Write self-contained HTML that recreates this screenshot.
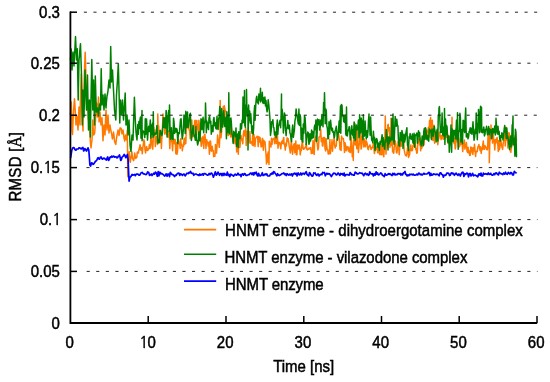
<!DOCTYPE html>
<html><head><meta charset="utf-8"><title>RMSD</title>
<style>html,body{margin:0;padding:0;background:#fff;width:550px;height:382px;overflow:hidden}svg{display:block}</style>
</head><body>
<svg width="550" height="382" viewBox="0 0 550 382" font-family="Liberation Sans, Arial, sans-serif" font-size="15" fill="#000"><path d="M70.5 115.0 71.3 102.0 72.0 130.0 72.5 134.4 73.3 115.0 73.9 106.1 74.5 98.7 75.2 110.0 76.0 125.0 76.5 120.9 77.0 116.0 77.5 122.7 78.0 130.0 78.5 119.3 79.0 107.0 79.5 115.6 80.0 125.0 80.5 95.0 81.3 74.0 82.0 110.0 82.5 120.9 83.0 131.0 83.6 100.0 84.5 70.0 85.2 52.3 86.0 80.0 86.8 110.0 87.5 100.0 88.0 109.4 88.5 120.0 89.0 115.5 89.5 110.0 90.3 141.0 91.0 148.0 91.5 143.3 92.0 140.0 92.8 120.0 93.5 135.0 94.1 134.4 94.7 133.0 95.5 120.0 96.0 110.7 96.5 103.0 97.0 110.5 97.5 117.0 98.0 106.4 98.5 97.0 99.1 122.0 100.0 112.0 100.5 119.3 101.0 125.0 101.5 120.8 102.0 117.8 102.5 130.1 103.0 140.8 103.5 132.2 104.0 125.0 104.5 130.3 105.0 135.0 105.5 121.8 106.0 110.0 106.5 120.6 107.0 130.0 107.5 122.0 108.0 115.0 108.5 124.4 109.0 133.0 109.5 128.3 110.0 125.0 110.5 128.6 111.0 131.0 111.7 134.2 112.4 138.9 113.0 136.1 113.5 132.0 114.0 135.7 114.5 141.0 115.2 143.3 115.8 144.4 116.4 139.0 117.0 135.0 117.5 133.1 118.0 130.0 118.5 132.4 119.0 135.6 119.5 132.6 120.0 128.0 120.7 128.0 121.3 128.9 122.0 134.0 122.5 132.7 123.0 130.0 123.5 133.2 124.0 138.0 124.7 141.0 125.5 135.0 126.0 138.1 126.5 140.0 127.3 130.0 127.8 176.8 128.5 160.0 129.2 151.5 129.8 158.3 130.3 162.2 130.8 158.5 131.4 155.4 131.9 151.9 132.5 158.2 133.0 159.4 133.6 160.6 134.1 158.3 134.7 153.1 135.3 156.6 135.8 158.5 136.3 156.8 136.8 157.5 137.3 152.1 137.9 153.0 138.4 153.0 139.0 149.5 139.5 147.6 140.1 144.7 140.6 150.1 141.2 147.4 141.7 148.2 142.3 153.8 142.9 147.1 143.4 144.3 143.9 139.7 144.4 141.6 145.0 149.6 145.6 152.9 146.1 148.5 146.7 146.6 147.2 150.4 147.8 150.6 148.3 149.0 148.9 148.4 149.4 144.6 150.0 148.6 150.5 144.7 151.0 131.6 151.6 140.4 152.2 147.1 152.7 149.1 153.2 140.5 153.7 127.3 154.2 135.8 154.8 130.1 155.3 146.6 155.9 141.8 156.5 136.8 157.0 138.0 157.6 144.4 157.8 114.0 158.1 128.8 158.6 125.8 159.2 138.9 159.8 142.8 160.3 134.6 160.9 131.7 161.4 148.4 162.0 134.8 162.5 126.3 163.0 114.0 163.1 124.4 163.6 117.5 164.2 124.2 164.7 134.1 165.3 123.8 165.9 129.1 166.5 134.5 167.1 129.6 167.7 137.0 168.2 130.9 168.7 137.1 169.2 132.5 169.8 148.6 170.4 137.7 171.0 134.9 171.5 141.1 172.0 142.5 172.6 150.8 173.2 138.2 173.7 142.7 174.3 143.6 174.8 139.2 175.3 140.2 175.8 153.8 176.3 142.6 176.9 154.2 177.5 152.0 178.0 142.7 178.5 139.4 179.1 144.0 179.6 143.2 180.2 148.4 180.7 138.7 181.2 145.0 181.8 144.1 182.3 150.8 182.9 146.0 183.5 146.2 184.1 138.5 184.6 144.5 185.2 137.8 185.8 143.4 186.3 130.0 186.9 122.9 187.5 127.5 188.1 124.7 188.6 123.5 189.1 129.6 189.7 131.6 190.2 138.8 190.7 133.2 191.3 125.2 191.8 119.9 192.4 136.4 193.0 136.8 193.5 135.9 194.1 129.9 194.7 121.0 195.2 120.3 195.7 127.0 196.3 125.4 196.8 120.4 197.3 129.6 197.8 124.7 198.4 135.0 198.9 120.2 199.5 127.1 200.1 135.2 200.7 137.6 201.2 146.3 201.7 143.0 202.2 138.2 202.8 136.9 203.3 144.1 203.8 148.4 204.3 135.0 204.9 134.2 205.5 141.5 206.0 148.4 206.6 139.5 207.1 142.0 207.7 141.9 208.2 146.1 208.8 142.4 209.4 154.2 210.0 141.0 210.6 141.3 211.1 150.8 211.7 151.1 212.2 146.3 212.7 150.6 213.2 150.5 213.7 156.7 214.3 155.5 214.9 156.3 215.5 144.6 216.0 146.5 216.5 153.1 217.1 145.0 217.6 135.0 218.1 139.5 218.7 141.9 219.3 147.3 219.9 135.1 220.2 100.5 220.4 127.0 221.0 137.8 221.6 131.6 222.1 123.2 222.7 123.8 223.2 106.4 223.8 124.4 224.3 105.7 224.8 108.8 225.4 110.9 225.9 110.9 226.4 126.5 226.9 133.9 227.5 121.8 228.0 135.4 228.6 135.5 229.1 119.5 229.6 125.1 230.2 127.6 230.8 137.0 231.3 127.5 231.8 133.7 232.4 137.0 232.9 141.4 233.4 142.5 234.0 137.6 234.5 133.9 235.1 143.7 235.6 140.4 236.1 139.4 236.7 151.9 237.2 144.5 237.8 142.2 238.3 154.3 238.8 139.7 239.4 135.7 239.9 147.5 240.5 140.4 241.0 135.3 241.6 139.9 242.2 139.2 242.8 143.8 243.3 134.6 243.9 130.7 244.4 134.3 245.0 136.1 245.6 127.6 246.2 145.4 246.7 142.5 247.2 130.9 247.8 134.3 248.3 139.4 248.8 136.4 249.3 142.7 249.9 131.5 250.4 143.2 251.0 141.6 251.6 141.9 252.2 144.9 252.7 135.4 253.3 145.8 253.8 134.3 254.4 137.9 255.0 146.5 255.5 138.4 256.1 137.9 256.7 137.0 257.2 136.2 257.7 137.7 258.2 146.6 258.8 136.6 259.4 141.9 260.0 137.4 260.6 142.2 261.1 146.9 261.7 146.4 262.3 138.6 262.8 139.2 263.3 150.2 263.9 140.4 264.5 143.4 265.0 141.7 265.6 149.7 266.1 155.5 266.5 164.0 266.6 157.9 267.1 154.5 267.6 161.9 268.1 152.1 268.7 161.3 269.0 164.5 269.3 141.2 269.8 145.3 270.4 143.9 270.9 147.1 271.5 138.2 272.0 144.4 272.5 138.9 273.0 139.5 273.5 139.1 274.1 138.1 274.6 143.8 275.2 134.1 275.8 136.3 276.3 143.6 276.9 137.8 277.4 134.8 278.0 148.3 278.6 142.2 279.2 142.6 279.7 142.8 280.3 145.9 280.8 148.8 281.4 142.5 282.0 141.0 282.6 143.6 283.2 139.5 283.7 137.4 284.2 144.7 284.7 145.0 285.3 150.1 285.9 143.1 286.4 146.0 287.1 137.7 287.6 141.3 288.2 138.8 288.7 141.9 289.2 146.2 289.8 149.2 290.3 153.0 290.9 144.9 291.4 140.8 292.0 149.8 292.6 154.3 293.1 147.3 293.7 145.0 294.2 143.8 294.7 152.7 295.2 147.1 295.8 140.9 296.3 154.7 296.9 154.7 297.5 145.0 298.1 145.2 298.6 148.9 299.2 145.0 299.7 146.3 300.2 154.8 300.7 150.3 301.3 150.7 301.9 143.9 302.4 141.1 303.0 148.2 303.6 149.3 304.1 148.1 304.7 148.8 305.2 147.5 305.8 145.9 306.3 143.4 306.9 149.6 307.4 149.9 308.0 149.4 308.5 148.9 309.1 147.8 309.7 148.7 310.2 149.2 310.8 147.5 311.3 153.6 311.9 151.3 312.4 153.3 313.0 140.5 313.6 151.0 314.2 154.5 314.7 139.0 315.2 140.5 315.7 136.3 316.3 141.2 316.8 142.4 317.3 143.6 317.9 149.9 318.5 147.5 319.0 137.0 319.6 137.0 320.2 135.8 320.7 129.2 321.3 141.6 321.9 138.1 322.4 145.7 322.9 146.1 323.5 137.6 324.0 140.1 324.5 137.6 325.0 148.6 325.6 150.9 326.1 138.6 326.6 144.6 327.2 149.6 327.7 149.6 328.2 154.0 328.8 154.1 329.4 151.3 329.9 139.5 330.4 153.7 331.0 147.0 331.5 147.9 332.0 139.7 332.5 151.2 333.0 143.9 333.5 143.7 334.1 138.2 334.6 144.6 335.1 148.0 335.6 145.7 336.2 146.3 336.7 139.2 337.2 139.6 337.8 136.0 338.3 131.9 338.9 136.7 339.5 141.6 340.0 149.6 340.6 142.4 341.1 150.4 341.6 136.1 342.2 138.8 342.8 138.4 343.3 138.5 343.9 142.4 344.5 152.4 345.0 142.8 345.6 145.1 346.1 150.7 346.7 148.3 347.2 146.6 347.8 148.2 348.4 151.1 348.9 146.9 349.5 151.9 350.0 149.3 350.5 152.4 351.1 136.9 351.7 143.4 352.3 156.7 352.8 150.2 353.3 160.4 353.4 147.0 354.0 135.8 354.6 125.7 355.0 124.0 355.1 145.0 355.7 141.5 356.2 139.4 356.8 148.7 357.4 129.7 357.9 144.0 358.4 152.4 359.0 146.1 359.5 143.0 360.0 119.3 360.6 138.3 361.1 149.1 361.6 147.5 362.2 136.3 362.7 135.5 363.3 142.0 363.9 147.0 364.4 139.0 365.0 145.1 365.6 146.6 366.1 140.7 366.6 141.8 367.2 143.9 367.8 148.9 368.3 149.6 368.9 146.6 369.4 145.8 369.9 145.0 370.5 147.0 371.1 149.6 371.6 147.7 372.2 148.0 372.8 146.6 373.4 143.3 373.9 147.2 374.4 153.5 375.0 150.7 375.5 146.5 376.1 146.9 376.6 149.5 377.2 148.0 377.7 152.8 378.3 147.3 378.8 147.5 379.4 153.9 380.0 154.7 380.6 154.0 381.1 144.3 381.7 154.8 382.3 151.0 382.8 142.0 383.3 154.3 383.8 156.8 384.4 146.0 384.9 137.5 385.3 116.0 385.5 143.7 386.0 154.1 386.6 140.1 387.2 137.3 387.7 125.1 388.2 124.4 388.8 130.9 389.3 127.7 389.9 147.5 390.4 134.7 390.9 145.6 391.0 118.3 391.5 136.0 392.1 139.0 392.6 151.6 393.1 152.4 393.7 153.2 394.2 147.6 394.8 144.2 395.2 140.8 395.8 144.2 396.4 152.5 396.9 153.0 397.5 148.9 398.1 141.6 398.6 143.7 399.2 154.7 399.8 147.2 400.3 141.6 400.9 141.3 401.4 146.2 402.0 140.9 402.6 140.4 403.1 140.8 403.6 140.2 404.2 150.2 404.7 152.6 405.3 154.9 405.8 155.5 406.4 156.0 406.9 153.3 407.5 148.2 408.0 143.9 408.5 157.4 408.5 149.2 409.1 156.1 409.7 154.0 410.2 148.1 410.8 144.9 411.3 150.8 411.9 148.9 412.4 150.6 413.0 145.2 413.6 146.2 414.1 139.8 414.6 143.1 415.2 140.3 415.7 149.6 416.2 148.4 416.7 153.2 417.3 152.7 417.9 141.3 418.5 138.6 419.1 140.3 419.6 144.8 420.1 137.7 420.6 150.8 421.2 146.8 421.7 148.3 422.2 146.5 422.8 142.1 423.4 140.5 424.0 144.7 424.6 135.1 425.2 138.7 425.8 137.3 426.3 131.5 426.8 138.0 427.4 130.4 427.9 132.4 428.4 127.3 429.0 137.2 429.5 120.5 430.0 130.0 430.5 118.3 430.6 117.6 431.1 137.9 431.7 122.1 432.3 120.2 432.9 140.6 433.5 132.5 434.0 125.2 434.6 143.2 435.1 134.8 435.7 134.5 436.2 130.8 436.8 134.5 437.3 131.5 437.8 144.8 438.3 139.8 438.9 138.3 439.5 132.2 440.0 134.9 440.6 135.6 441.1 139.6 441.7 135.5 442.2 135.4 442.8 137.8 443.3 139.2 443.9 133.8 444.5 138.5 445.1 137.6 445.6 133.1 446.2 137.0 446.8 137.2 447.3 131.6 447.9 143.2 448.5 135.5 449.1 143.4 449.6 137.0 450.2 139.1 450.7 134.9 451.3 140.5 451.8 139.5 452.0 117.2 452.3 136.1 452.9 138.2 453.5 135.9 454.1 143.6 454.6 138.6 455.2 148.9 455.7 146.8 456.3 128.5 456.8 141.8 457.4 140.0 457.9 135.9 458.4 137.5 458.9 138.8 459.5 146.8 460.0 144.9 460.6 144.5 461.1 139.3 461.6 144.5 462.2 143.3 462.7 151.6 463.3 145.5 463.9 142.7 464.4 140.0 464.9 149.1 465.4 146.5 465.9 146.6 466.4 142.5 467.0 151.2 467.6 152.4 468.1 147.3 468.7 153.1 469.2 151.0 469.7 155.3 470.2 155.4 470.7 147.1 471.3 151.8 471.8 147.5 472.3 153.3 472.9 154.5 473.4 147.7 474.0 150.9 474.5 144.2 475.0 150.3 475.6 156.5 476.1 151.2 476.7 151.9 477.3 151.6 477.8 146.9 478.4 146.2 478.9 144.5 479.5 148.1 480.1 150.7 480.6 146.8 481.2 153.4 481.7 148.0 482.2 149.7 482.7 145.1 483.3 141.1 483.8 149.3 484.4 149.3 484.9 145.4 485.4 147.0 486.0 147.0 486.5 149.1 487.1 149.9 487.6 149.0 488.1 133.8 488.7 130.5 489.2 137.1 489.3 162.8 489.8 142.4 490.4 138.2 491.0 132.9 491.0 125.0 491.5 135.3 492.1 134.9 492.6 143.1 493.2 132.5 493.7 138.4 494.2 141.6 494.8 149.9 495.4 139.5 496.0 142.9 496.5 139.0 497.1 137.5 497.7 143.1 498.3 151.4 498.8 140.5 499.4 149.7 499.9 147.5 500.4 143.2 500.9 139.7 501.4 144.3 502.0 147.3 502.6 149.4 503.1 144.4 503.7 140.2 504.2 139.5 504.7 130.9 505.0 127.0 505.2 146.0 505.8 137.6 506.3 127.4 506.9 140.3 507.4 131.8 507.9 147.9 508.5 139.0 509.0 132.7 509.6 135.1 510.2 150.8 510.8 152.3 511.3 148.0 511.8 146.6 512.4 140.0 512.9 143.8 513.5 143.2 514.0 140.4 514.6 137.8 515.2 135.3 515.7 137.5 516.2 140.7 516.8 139.4" fill="none" stroke="#ff7800" stroke-width="1.5" stroke-linejoin="round"/>
<path d="M70.5 60.0 71.2 49.0 72.0 70.0 72.5 60.6 73.0 52.0 73.5 59.7 74.0 66.0 74.5 55.5 75.0 46.9 75.5 36.5 76.0 47.8 76.5 60.0 77.3 48.7 78.2 100.0 79.0 60.0 79.5 55.3 80.0 48.4 80.5 43.7 81.0 59.9 81.5 75.0 82.3 125.0 83.0 90.0 83.5 102.9 84.0 117.0 84.5 93.9 85.0 70.0 85.5 83.0 86.0 97.2 86.5 110.0 87.0 91.9 87.5 75.0 88.0 102.9 88.5 130.0 89.0 114.3 89.5 100.0 90.3 137.0 91.0 100.0 91.8 59.5 92.3 85.2 92.8 110.0 93.5 80.0 94.0 102.1 94.5 125.0 95.3 76.0 95.8 94.3 96.3 112.0 96.9 109.2 97.5 108.0 98.0 112.7 98.5 116.0 99.0 109.3 99.5 104.0 100.0 107.6 100.5 110.0 101.2 68.8 102.0 105.0 102.5 99.7 103.0 95.0 103.5 103.0 104.0 110.0 104.5 101.4 105.0 94.0 105.5 101.4 106.0 108.0 106.5 101.2 107.0 96.0 107.5 94.0 108.0 91.0 108.5 85.1 109.0 80.0 109.5 84.7 110.0 88.0 110.7 46.5 111.5 82.0 112.0 75.6 112.5 70.0 113.0 80.8 113.5 90.0 114.0 99.5 114.5 110.0 115.2 115.6 115.8 120.0 116.5 95.0 117.0 87.0 117.5 80.0 118.3 63.8 119.0 90.0 119.8 123.0 120.5 100.0 121.0 108.1 121.5 115.0 122.0 107.1 122.5 100.0 123.0 110.3 123.5 120.0 124.0 111.8 124.5 105.0 125.2 93.0 126.0 125.0 126.5 120.4 127.0 115.0 127.5 124.3 128.0 135.0 128.5 127.9 129.0 120.0 129.5 131.7 130.0 145.0 130.5 149.0 131.0 151.6 131.5 142.6 132.0 135.0 132.5 138.2 133.0 140.0 133.7 118.0 134.4 97.2 135.3 120.0 136.0 132.0 136.5 136.7 137.0 140.0 137.8 124.4 138.4 134.3 138.9 121.5 139.5 128.4 140.0 119.7 140.5 117.0 141.0 138.3 141.6 137.9 142.0 110.5 142.1 140.8 142.7 130.7 143.2 131.1 143.8 131.9 144.3 133.4 144.8 137.6 145.3 118.7 145.9 134.3 146.5 118.9 147.0 127.9 147.5 140.1 148.1 131.6 148.7 126.3 149.2 131.6 149.7 128.3 150.3 120.0 150.8 138.1 151.3 125.1 151.9 134.4 152.5 123.1 153.0 137.4 153.3 111.7 153.6 134.3 154.1 135.4 154.7 133.0 155.3 134.0 155.8 134.2 156.3 131.8 156.9 125.4 157.4 135.0 157.9 143.3 158.5 140.1 159.0 139.3 159.5 142.4 160.0 130.2 160.6 130.6 161.2 134.1 161.8 135.5 162.3 134.0 162.8 126.3 163.4 117.7 163.9 127.3 164.4 127.4 164.9 117.8 165.5 128.1 166.1 110.5 166.6 112.8 167.1 136.9 167.6 115.7 168.2 121.6 168.7 110.4 169.3 131.4 169.5 105.0 169.8 118.5 170.3 139.2 170.8 134.9 171.4 127.8 172.0 139.0 172.5 135.7 173.0 139.7 173.5 118.2 174.1 122.7 174.6 133.5 175.1 128.7 175.6 128.4 176.2 132.1 176.7 128.6 177.2 130.3 177.8 143.4 178.4 132.8 178.9 133.5 179.4 133.6 180.0 125.6 180.5 119.4 181.1 118.8 181.6 129.4 182.2 138.9 182.8 135.6 183.4 128.6 184.0 114.9 184.6 116.2 185.2 133.5 185.8 111.2 186.4 127.5 186.9 115.1 187.5 112.1 188.0 127.7 188.6 125.9 189.2 120.7 189.8 114.8 190.4 113.2 190.9 130.5 191.4 140.4 192.0 135.3 192.5 131.0 193.1 125.4 193.7 133.1 194.2 135.8 194.8 136.9 195.4 140.3 195.9 126.6 196.5 140.3 197.0 140.5 197.6 145.0 198.2 142.8 198.8 131.8 199.3 139.7 199.9 141.0 200.5 128.6 201.0 118.7 201.5 120.3 202.0 129.7 202.6 120.3 203.1 117.3 203.7 132.7 204.2 122.6 204.7 122.7 205.3 117.4 205.5 103.0 205.8 111.3 206.3 132.8 206.8 121.1 207.4 123.7 207.9 126.9 208.5 129.6 209.0 118.0 209.6 116.2 210.2 122.9 210.8 121.2 211.3 134.2 211.9 128.0 212.4 125.6 213.0 131.8 213.5 119.3 214.0 117.5 214.6 125.7 215.2 122.6 215.8 128.2 216.4 129.0 217.0 116.3 217.5 127.1 218.1 129.5 218.7 118.4 219.2 116.6 219.8 106.6 220.4 120.3 221.0 132.3 221.6 108.4 222.1 116.2 222.7 127.1 223.2 117.6 223.7 110.7 224.3 118.1 224.8 126.6 225.4 123.7 225.9 117.2 226.4 138.7 226.9 111.8 227.5 120.6 228.1 132.8 228.7 120.4 228.8 92.8 229.2 124.0 229.7 134.0 230.3 119.8 230.9 117.9 231.4 123.2 232.0 134.7 232.6 135.0 233.2 143.4 233.7 131.2 234.3 132.5 234.8 134.8 235.5 137.0 236.0 127.9 236.6 146.5 237.1 138.2 237.7 134.1 238.2 147.8 238.7 131.8 239.3 138.7 239.9 138.6 240.5 123.8 241.0 128.0 241.5 128.9 242.1 120.1 242.6 121.0 243.0 97.0 243.2 122.7 243.7 105.7 244.2 122.3 244.5 90.5 244.8 125.1 245.3 127.2 245.8 105.0 246.4 113.5 246.5 89.5 246.9 110.5 247.4 116.6 248.0 107.9 248.0 150.0 248.6 105.1 249.1 120.4 249.7 111.1 250.3 123.1 250.8 113.8 251.4 124.7 252.0 133.3 252.5 126.1 253.1 134.5 253.6 128.6 254.1 112.6 254.7 105.6 255.1 120.2 255.7 105.9 256.3 98.3 256.8 96.3 257.3 101.8 257.9 103.0 258.4 103.9 258.9 94.1 259.5 96.6 260.0 100.2 260.5 88.3 260.6 101.9 261.2 100.7 261.7 98.5 262.3 92.3 262.8 103.0 263.3 97.5 263.9 103.5 264.4 102.4 264.9 97.1 265.5 105.9 266.0 100.5 266.5 107.9 267.1 111.8 267.7 107.4 268.2 99.8 268.8 104.9 269.4 111.5 270.0 119.6 270.5 135.5 271.1 130.9 271.7 121.8 272.3 123.5 272.9 119.7 273.4 127.4 273.9 127.5 274.5 135.0 275.1 132.1 275.6 132.5 276.2 137.8 276.7 126.5 277.3 120.0 277.8 134.5 278.4 126.1 279.0 125.2 279.5 122.0 280.1 120.2 280.6 127.7 281.1 116.4 281.5 94.0 281.6 120.0 282.2 109.3 282.8 115.7 283.4 133.0 284.0 124.3 284.5 113.1 285.0 115.8 285.6 130.0 286.1 135.7 286.6 127.8 287.2 128.0 287.8 120.4 288.3 128.8 288.8 127.2 289.4 125.3 289.9 132.9 290.5 134.1 291.0 139.0 291.5 141.8 292.1 130.5 292.7 124.9 293.3 137.3 293.8 134.1 294.4 130.1 294.9 121.2 295.5 117.9 296.1 108.9 296.7 114.3 297.3 116.4 297.8 120.8 298.4 124.0 298.9 109.1 299.4 125.4 300.0 114.6 300.6 117.3 301.1 139.4 301.7 128.3 302.2 141.3 302.8 142.1 303.3 123.9 303.9 133.3 304.5 115.8 305.1 118.0 305.6 127.2 306.2 144.7 306.8 138.3 307.3 134.5 307.8 132.0 308.4 133.2 308.9 144.2 309.4 142.6 310.0 133.7 310.5 141.0 311.1 137.5 311.6 130.1 312.1 138.4 312.6 131.6 313.2 133.6 313.7 137.7 314.3 127.5 314.8 125.1 315.4 129.5 315.9 120.0 316.4 141.2 316.9 141.2 317.5 119.0 318.0 119.9 318.6 124.7 319.1 119.7 319.6 130.1 320.2 127.3 320.8 120.1 321.3 125.2 321.9 114.5 322.5 118.1 323.0 126.7 323.6 102.4 324.2 109.2 324.5 92.8 324.7 100.9 325.2 123.7 325.8 109.0 326.3 110.9 326.8 125.9 327.4 128.5 327.9 139.0 328.5 138.5 329.0 121.8 329.6 134.3 330.1 126.5 330.6 120.3 331.2 126.4 331.8 130.7 332.4 128.2 332.9 132.3 333.5 131.9 334.1 137.9 334.6 136.3 335.2 130.6 335.7 129.5 336.3 126.3 336.8 131.6 337.4 140.3 337.9 134.6 338.5 131.6 339.1 121.0 339.6 132.2 340.2 114.7 340.5 106.0 340.8 133.2 341.4 104.5 342.0 105.2 342.5 115.9 343.1 115.3 343.7 121.7 344.3 116.6 344.8 122.6 345.3 115.0 345.8 134.3 346.3 135.6 346.5 107.0 346.9 134.3 347.4 135.9 348.0 130.3 348.6 130.7 349.1 126.7 349.6 127.1 350.2 140.0 350.7 131.5 351.2 133.7 351.8 125.8 352.4 135.1 352.9 129.7 353.5 137.9 354.1 122.0 354.6 124.6 355.1 140.5 355.7 138.7 356.3 125.0 356.8 129.9 357.4 129.3 357.9 126.4 358.4 120.1 359.0 137.6 359.6 131.7 359.6 114.7 360.1 131.1 360.6 132.8 361.2 118.1 361.8 120.9 362.3 134.7 362.9 139.7 363.4 114.7 363.5 130.4 364.0 136.5 364.6 135.2 365.1 121.1 365.7 132.7 366.3 138.9 366.9 130.8 367.4 137.2 368.0 131.4 368.5 120.4 369.0 114.0 369.0 124.9 369.6 123.9 370.1 135.3 370.6 116.9 371.2 132.6 371.7 140.0 372.3 140.9 372.9 142.9 373.4 131.2 373.9 138.4 374.5 137.4 375.0 150.4 375.6 145.8 376.1 139.1 376.7 138.6 377.2 140.3 377.8 147.2 378.3 143.1 378.9 146.7 379.4 150.4 380.0 141.6 380.5 144.0 381.1 141.1 381.6 139.0 382.1 134.8 382.6 146.2 383.1 137.4 383.6 144.4 384.2 146.4 384.7 149.2 385.2 139.9 385.8 142.2 386.3 129.6 386.9 136.2 387.4 138.7 388.0 149.9 388.5 137.1 389.1 143.7 389.6 136.9 390.2 141.5 390.8 140.1 391.3 139.5 391.9 118.6 392.4 139.7 393.0 123.0 393.0 114.0 393.5 139.8 394.1 144.5 394.7 128.5 395.2 116.5 395.8 124.3 396.3 126.2 396.8 119.3 397.3 124.5 397.9 126.1 398.4 139.3 399.0 145.7 399.6 146.1 400.2 132.6 400.8 134.1 401.4 140.8 401.9 130.5 402.5 133.5 403.0 148.5 403.5 142.4 404.1 134.2 404.6 142.0 405.2 139.3 405.8 133.6 406.4 130.2 406.9 127.7 407.5 145.4 408.0 143.5 408.5 150.6 409.1 136.8 409.6 138.2 410.1 133.5 410.7 137.7 411.2 139.5 411.8 138.0 412.4 133.9 412.9 143.0 413.5 143.4 414.1 133.3 414.7 147.2 415.2 135.2 415.7 134.7 416.3 135.3 416.8 133.1 417.4 143.3 417.9 138.3 418.5 130.7 419.0 136.4 419.6 132.4 420.1 140.9 420.6 142.2 421.2 145.8 421.7 141.5 422.2 135.9 422.8 142.5 423.3 145.8 423.8 131.1 424.4 128.2 424.9 139.5 425.5 127.8 426.0 129.3 426.6 138.9 427.2 139.9 427.7 135.4 428.2 138.5 428.7 141.2 429.3 128.9 429.8 131.2 430.3 131.9 430.9 130.2 431.5 139.6 432.1 129.0 432.6 132.7 433.2 136.2 433.8 129.4 434.3 126.3 434.9 130.9 435.5 133.5 436.1 142.0 436.6 134.2 437.2 129.2 437.8 141.0 438.3 115.1 438.8 114.0 439.0 108.0 439.4 106.6 439.9 120.8 440.5 132.6 441.0 128.4 441.5 132.2 442.1 113.1 442.7 135.0 443.3 127.2 443.9 136.1 444.4 125.8 444.5 108.5 444.9 144.6 445.5 119.0 446.1 134.7 446.6 125.4 447.1 127.2 447.7 141.9 448.3 142.2 448.8 136.1 449.3 152.2 449.9 144.3 450.5 140.2 451.0 124.9 451.6 152.3 452.1 128.9 452.6 133.9 453.2 141.6 453.8 130.2 454.3 134.8 454.9 130.6 455.5 138.8 456.0 131.9 456.5 120.2 457.1 139.8 457.5 112.8 457.7 135.9 458.2 149.3 458.8 130.8 459.3 131.6 459.9 113.3 460.4 117.7 460.9 141.9 461.5 133.7 462.0 129.6 462.5 143.7 463.1 120.2 463.7 120.8 464.2 130.3 464.7 132.5 465.3 116.0 465.7 108.0 465.8 112.8 466.3 137.1 466.9 135.2 467.4 133.8 468.0 138.8 468.6 136.8 469.1 131.6 469.6 130.5 470.2 127.8 470.7 133.2 471.3 128.3 471.9 134.3 472.4 130.2 473.0 121.8 473.5 131.0 474.0 140.3 474.6 137.6 475.2 129.0 475.7 133.5 476.2 112.9 476.8 128.1 477.3 139.7 477.8 125.6 478.3 122.4 478.5 109.4 478.9 120.6 479.4 132.8 480.0 113.2 480.6 106.3 481.1 132.1 481.5 107.2 481.7 126.0 482.2 132.8 482.8 129.8 483.3 132.0 483.8 127.0 484.4 135.9 485.0 134.3 485.5 129.2 486.1 129.2 486.6 126.3 487.1 132.0 487.6 134.8 488.2 130.5 488.7 126.5 489.3 134.7 489.8 129.1 490.4 131.1 490.9 129.6 491.5 138.8 492.0 137.7 492.6 128.6 493.1 128.9 493.6 132.7 494.2 130.4 494.7 126.1 495.3 134.9 495.8 127.7 496.0 118.3 496.3 123.4 496.9 131.4 497.4 133.9 498.0 126.3 498.6 134.2 499.1 131.3 499.6 137.5 500.1 141.1 500.7 135.7 501.3 137.7 501.9 132.7 502.4 134.0 503.0 139.9 503.6 135.5 504.2 128.8 504.7 125.5 505.2 132.1 505.7 128.2 506.2 138.4 506.8 128.0 507.3 138.2 507.8 136.3 508.4 140.2 508.9 144.7 509.5 149.4 510.0 140.0 510.6 136.1 511.1 147.0 511.6 142.3 512.2 124.7 512.7 125.5 513.0 116.0 513.2 144.9 513.8 139.8 514.4 138.2 514.9 156.2 515.4 129.2 516.0 132.7 516.5 156.8 516.8 157.0" fill="none" stroke="#008000" stroke-width="1.5" stroke-linejoin="round"/>
<path d="M70.6 158.0 71.2 154.0 71.8 150.2 72.7 147.9 73.5 147.5 74.3 148.2 75.1 149.8 75.9 150.2 76.7 149.0 77.4 149.0 78.2 148.9 79.0 147.8 79.8 147.9 80.6 148.8 81.4 149.0 82.2 147.8 82.9 147.5 83.7 151.0 84.3 150.1 84.9 148.6 85.7 149.5 86.5 151.0 87.2 149.9 88.0 147.9 88.8 150.0 89.4 158.0 89.9 165.1 90.6 166.0 91.6 162.8 92.3 163.3 93.1 164.4 93.9 163.8 94.7 162.4 95.5 161.4 96.3 160.8 96.9 160.0 97.6 158.2 98.2 157.7 98.8 158.8 99.4 159.2 100.2 157.6 101.0 156.9 101.8 158.6 102.6 159.2 103.3 158.2 104.1 158.0 105.0 158.9 105.8 159.7 106.5 160.0 107.1 157.9 107.7 156.9 108.5 160.4 109.2 159.7 109.8 157.6 110.5 156.9 111.1 157.3 111.7 156.1 112.3 157.0 112.9 156.5 113.7 156.1 114.4 157.1 115.2 156.9 116.0 156.7 116.8 157.9 117.6 157.7 118.2 156.4 118.9 156.1 119.5 154.9 120.1 157.2 120.7 160.4 121.4 159.6 122.0 157.3 122.7 156.5 123.5 155.9 124.2 154.5 125.0 155.6 125.8 157.7 126.6 156.4 127.4 154.5 128.1 160.0 128.6 172.0 129.1 181.2 129.7 178.0 130.3 176.9 130.9 176.5 132.1 174.5 132.8 175.1 133.6 174.9 134.6 174.4 135.4 175.7 136.3 174.1 137.0 174.0 137.9 174.2 138.9 175.1 139.8 175.1 140.7 173.3 141.4 172.7 142.3 172.4 143.2 173.9 144.1 173.9 145.0 174.2 146.0 174.6 146.8 173.9 147.7 171.9 148.7 172.4 149.5 175.4 150.5 174.8 151.3 174.0 152.0 175.5 152.9 174.2 153.7 173.2 154.5 174.1 155.4 172.1 156.3 172.8 157.3 176.3 158.2 171.7 158.9 175.9 159.9 172.2 160.8 173.9 161.7 173.5 162.6 174.1 163.5 174.7 164.5 176.1 165.4 175.6 166.1 173.9 167.1 176.2 167.8 174.2 168.7 174.1 169.5 176.6 170.3 172.3 171.3 173.9 172.2 174.7 172.9 174.7 173.8 175.5 174.6 176.6 175.4 175.1 176.3 175.3 177.2 173.7 178.0 173.3 178.9 173.0 179.8 175.4 180.6 173.9 181.5 174.3 182.5 175.3 183.4 174.2 184.2 174.2 185.1 175.9 186.0 174.7 186.7 173.4 187.6 173.3 188.4 173.7 189.1 172.4 189.8 172.8 190.6 171.5 191.4 173.2 192.2 173.6 193.0 173.2 193.8 175.3 194.6 174.4 195.5 174.0 196.4 174.0 197.4 175.0 198.1 174.8 199.1 175.5 199.8 174.0 200.7 175.2 201.6 174.8 202.4 173.8 203.3 175.2 204.0 173.6 204.8 173.5 205.7 174.1 206.7 174.7 207.6 175.2 208.5 174.8 209.2 173.4 210.0 174.5 210.8 173.4 211.7 173.2 212.6 174.8 213.4 177.1 214.3 174.7 215.3 171.8 216.3 175.2 217.1 174.3 218.0 172.1 218.8 173.8 219.6 175.3 220.3 173.6 221.3 173.7 222.0 175.7 223.0 173.4 223.9 175.4 224.6 173.5 225.6 174.7 226.5 175.2 227.3 172.1 228.2 175.5 229.0 174.4 229.8 176.6 230.8 174.1 231.6 174.9 232.6 175.3 233.6 176.2 234.5 174.6 235.4 174.2 236.3 175.2 237.1 174.7 238.0 173.2 238.9 174.8 239.6 174.9 240.4 174.6 241.1 176.6 241.8 174.2 242.7 173.9 243.5 175.2 244.4 173.5 245.1 173.7 245.9 175.3 246.8 175.4 247.6 175.0 248.4 174.7 249.3 174.6 250.3 173.2 251.2 173.2 252.0 174.7 252.9 172.8 253.8 175.0 254.5 172.6 255.2 173.7 256.1 172.1 257.1 175.1 257.9 176.0 258.6 173.3 259.5 175.7 260.4 175.9 261.4 174.9 262.3 172.7 263.1 175.4 263.8 175.3 264.6 174.5 265.3 174.0 266.0 174.8 266.8 173.9 267.7 175.9 268.6 176.0 269.6 175.9 270.5 174.0 271.2 174.4 272.1 172.9 272.9 174.1 273.6 171.6 274.4 172.0 275.1 173.2 275.9 174.2 276.8 175.9 277.6 173.7 278.4 175.1 279.3 175.6 280.3 175.1 281.1 174.4 282.0 173.6 282.9 173.6 283.8 173.0 284.7 174.7 285.4 173.9 286.3 175.5 287.1 173.7 288.1 174.6 288.8 175.2 289.7 174.1 290.6 175.0 291.6 173.9 292.4 176.0 293.4 173.7 294.1 173.8 294.8 173.1 295.6 174.3 296.4 173.4 297.1 176.0 298.1 172.9 299.0 174.4 299.9 174.9 300.8 173.0 301.7 174.9 302.6 173.4 303.6 173.4 304.4 174.4 305.3 173.0 306.2 171.6 307.0 174.4 307.8 175.1 308.7 175.9 309.5 172.5 310.4 173.7 311.3 175.3 312.1 176.2 312.9 175.7 313.7 172.9 314.4 173.3 315.2 173.0 315.9 174.7 316.8 175.4 317.7 174.1 318.4 174.0 319.1 176.0 320.1 174.9 321.1 174.1 321.9 174.5 322.7 172.4 323.6 172.9 324.4 172.4 325.3 175.8 326.2 174.0 326.9 173.2 327.8 174.2 328.7 173.6 329.6 173.9 330.5 175.3 331.4 176.6 332.1 175.1 332.9 174.1 333.8 173.1 334.7 173.3 335.6 173.9 336.3 174.9 337.2 174.4 338.1 172.9 338.9 174.0 339.9 175.4 340.6 173.5 341.5 174.2 342.3 173.7 343.2 175.3 344.1 173.1 344.9 176.0 345.7 174.9 346.6 174.7 347.5 174.6 348.3 175.0 349.3 175.1 350.1 172.6 350.9 173.5 351.7 174.7 352.6 174.6 353.5 175.2 354.2 175.2 355.2 172.1 356.0 172.6 356.9 173.6 357.9 173.9 358.9 173.4 359.7 172.7 360.4 173.0 361.4 173.5 362.2 173.1 363.1 174.7 363.8 175.7 364.6 173.7 365.5 173.2 366.5 174.7 367.4 173.9 368.3 175.3 369.1 174.7 369.8 171.8 370.6 173.4 371.6 174.0 372.5 173.7 373.4 175.9 374.3 173.6 375.1 175.2 376.1 171.9 376.9 174.1 377.6 173.0 378.4 174.8 379.1 174.7 379.9 173.9 380.8 172.9 381.7 173.7 382.6 175.5 383.4 175.5 384.3 176.6 385.1 173.6 386.0 175.2 386.8 175.2 387.7 174.4 388.5 173.6 389.2 174.4 390.0 173.7 390.7 174.6 391.4 175.0 392.1 175.5 392.8 173.3 393.8 174.6 394.5 173.4 395.2 174.9 396.2 174.5 397.0 174.8 397.8 173.6 398.5 173.5 399.2 174.1 400.2 173.4 401.0 175.1 401.8 174.0 402.5 174.9 403.4 172.9 404.1 172.9 405.0 171.4 405.7 174.5 406.4 174.4 407.1 175.9 408.1 175.0 408.9 175.7 409.8 174.2 410.8 174.6 411.6 174.2 412.4 174.8 413.2 174.2 414.2 175.1 415.0 175.1 415.9 175.0 416.8 174.1 417.7 175.0 418.7 173.1 419.5 173.5 420.4 174.6 421.3 174.2 422.2 175.0 423.1 174.1 423.9 173.2 424.7 174.1 425.5 174.0 426.5 174.0 427.2 173.8 428.2 172.8 429.1 172.3 430.0 175.6 430.8 173.3 431.6 175.2 432.6 174.9 433.3 173.9 434.0 174.0 434.9 174.3 435.7 174.7 436.6 174.2 437.3 174.2 438.3 174.6 439.1 175.8 440.1 172.8 440.9 172.9 441.7 174.4 442.6 174.7 443.4 177.2 444.1 175.1 445.1 175.5 445.9 175.1 446.8 173.1 447.7 173.1 448.7 173.3 449.5 175.5 450.3 175.2 451.2 173.1 452.0 172.9 452.9 173.8 453.6 173.5 454.3 175.3 455.2 174.3 456.1 173.1 457.0 174.4 458.0 175.4 458.8 174.0 459.6 174.5 460.3 176.0 461.3 173.7 462.3 172.2 463.1 172.4 463.9 176.5 464.9 173.7 465.8 174.4 466.8 173.1 467.8 173.5 468.5 176.8 469.2 174.4 470.1 173.4 471.0 176.0 471.8 175.0 472.6 173.3 473.5 175.8 474.3 175.2 475.1 175.0 475.9 175.5 476.8 176.0 477.8 176.8 478.6 174.3 479.3 173.8 480.2 175.4 481.0 173.0 481.8 175.9 482.7 176.0 483.5 173.1 484.2 174.2 485.0 174.1 485.8 173.6 486.5 174.1 487.3 174.4 488.3 173.0 489.2 174.5 490.0 174.3 490.7 173.3 491.4 174.6 492.3 175.2 493.0 174.9 494.0 173.6 494.7 174.7 495.5 173.1 496.5 172.9 497.4 174.2 498.4 174.9 499.3 172.2 500.2 173.3 501.0 173.7 501.8 173.8 502.8 174.7 503.7 173.0 504.7 174.2 505.5 172.2 506.4 173.8 507.3 174.3 508.3 172.5 509.1 173.2 509.9 174.0 510.9 172.4 511.7 172.9 512.5 174.8 513.4 175.0 514.3 171.4 515.0 172.1 515.9 172.8 516.7 172.9" fill="none" stroke="#0000ff" stroke-width="1.7" stroke-linejoin="round"/>

<line x1="86.65" y1="271.4" x2="537.5" y2="271.4" stroke="#222" stroke-width="1" stroke-dasharray="3.1 6.48"/>
<line x1="86.65" y1="219.6" x2="537.5" y2="219.6" stroke="#222" stroke-width="1" stroke-dasharray="3.1 6.48"/>
<line x1="86.45" y1="167.6" x2="537.5" y2="167.6" stroke="#222" stroke-width="1" stroke-dasharray="3.1 6.48"/>
<line x1="83.45" y1="115.2" x2="537.5" y2="115.2" stroke="#222" stroke-width="1" stroke-dasharray="3.1 6.48"/>
<line x1="86.65" y1="63.2" x2="537.5" y2="63.2" stroke="#222" stroke-width="1" stroke-dasharray="3.1 6.48"/>
<line x1="83.85" y1="12.2" x2="537.5" y2="12.2" stroke="#222" stroke-width="1" stroke-dasharray="3.1 6.48"/>
<path d="M70.4 11.4 V323 H537.2" fill="none" stroke="#000" stroke-width="1.8"/>
<line x1="70" y1="271.4" x2="77" y2="271.4" stroke="#000" stroke-width="1.5"/>
<line x1="70" y1="219.6" x2="77" y2="219.6" stroke="#000" stroke-width="1.5"/>
<line x1="70" y1="167.6" x2="77" y2="167.6" stroke="#000" stroke-width="1.5"/>
<line x1="70" y1="115.2" x2="77" y2="115.2" stroke="#000" stroke-width="1.5"/>
<line x1="70" y1="63.2" x2="77" y2="63.2" stroke="#000" stroke-width="1.5"/>
<line x1="70" y1="12.2" x2="77" y2="12.2" stroke="#000" stroke-width="1.5"/>
<line x1="148.2" y1="316" x2="148.2" y2="323" stroke="#000" stroke-width="1.5"/>
<line x1="226.0" y1="316" x2="226.0" y2="323" stroke="#000" stroke-width="1.5"/>
<line x1="303.8" y1="316" x2="303.8" y2="323" stroke="#000" stroke-width="1.5"/>
<line x1="381.5" y1="316" x2="381.5" y2="323" stroke="#000" stroke-width="1.5"/>
<line x1="459.2" y1="316" x2="459.2" y2="323" stroke="#000" stroke-width="1.5"/>
<line x1="537.0" y1="316" x2="537.0" y2="323" stroke="#000" stroke-width="1.5"/>
<text transform="translate(59.90,328.80) scale(1,1.05)" text-anchor="end" stroke="#000" stroke-width="0.45">0</text>
<text transform="translate(59.90,277.20) scale(1,1.05)" text-anchor="end" stroke="#000" stroke-width="0.45">0.05</text>
<text transform="translate(61.30,225.40) scale(1,1.05)" text-anchor="end" stroke="#000" stroke-width="0.45">0.<tspan font-family="NanumGothic, Liberation Sans, sans-serif">1</tspan></text>
<text transform="translate(59.90,173.40) scale(1,1.05)" text-anchor="end" stroke="#000" stroke-width="0.45">0.<tspan font-family="NanumGothic, Liberation Sans, sans-serif">1</tspan><tspan dx="-0.75">5</tspan></text>
<text transform="translate(59.90,121.00) scale(1,1.05)" text-anchor="end" stroke="#000" stroke-width="0.45">0.2</text>
<text transform="translate(59.90,69.00) scale(1,1.05)" text-anchor="end" stroke="#000" stroke-width="0.45">0.25</text>
<text transform="translate(59.90,18.00) scale(1,1.05)" text-anchor="end" stroke="#000" stroke-width="0.45">0.3</text>
<text transform="translate(69.70,347.50) scale(1,1.1)" text-anchor="middle" stroke="#000" stroke-width="0.45">0</text>
<text transform="translate(147.45,347.50) scale(1,1.1)" text-anchor="middle" stroke="#000" stroke-width="0.45"><tspan font-family="NanumGothic, Liberation Sans, sans-serif">1</tspan><tspan dx="-0.75">0</tspan></text>
<text transform="translate(225.20,347.50) scale(1,1.1)" text-anchor="middle" stroke="#000" stroke-width="0.45">20</text>
<text transform="translate(302.95,347.50) scale(1,1.1)" text-anchor="middle" stroke="#000" stroke-width="0.45">30</text>
<text transform="translate(380.70,347.50) scale(1,1.1)" text-anchor="middle" stroke="#000" stroke-width="0.45">40</text>
<text transform="translate(458.45,347.50) scale(1,1.1)" text-anchor="middle" stroke="#000" stroke-width="0.45">50</text>
<text transform="translate(536.20,347.50) scale(1,1.1)" text-anchor="middle" stroke="#000" stroke-width="0.45">60</text>
<text transform="translate(303.70,372.20) scale(1,1.1)" text-anchor="middle" stroke="#000" stroke-width="0.45">Time [ns]</text>
<text transform="translate(20.5,166.8) rotate(-90) scale(1,1.1)" text-anchor="middle" textLength="69.4" lengthAdjust="spacing" stroke="#000" stroke-width="0.45">RMSD [<tspan font-family="Liberation Serif, serif">Å</tspan>]</text>
<line x1="184" y1="229.6" x2="216.2" y2="229.6" stroke="#ff7800" stroke-width="1.6"/>
<text transform="translate(225.10,235.80) scale(1,1.1)" stroke="#000" stroke-width="0.45" textLength="297.7" lengthAdjust="spacing">HNMT enzyme - dihydroergotamine complex</text>
<line x1="184" y1="254.2" x2="216.2" y2="254.2" stroke="#008000" stroke-width="1.6"/>
<text transform="translate(224.40,262.50) scale(1,1.1)" stroke="#000" stroke-width="0.45" textLength="243.0" lengthAdjust="spacing">HNMT enzyme - vilazodone complex</text>
<line x1="184" y1="281.1" x2="216.2" y2="281.1" stroke="#0000ff" stroke-width="1.6"/>
<text transform="translate(225.10,289.50) scale(1,1.1)" stroke="#000" stroke-width="0.45" textLength="98.6" lengthAdjust="spacing">HNMT enzyme</text></svg>
</body></html>
